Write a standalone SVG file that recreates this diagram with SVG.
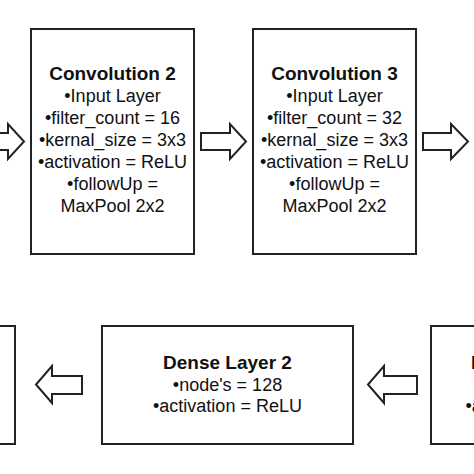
<svg xmlns="http://www.w3.org/2000/svg" width="474" height="474" viewBox="0 0 474 474">
<style>
.box{fill:#fff;stroke:#222;stroke-width:2}
.arr{fill:#fff;stroke:#222;stroke-width:2;stroke-linejoin:miter}
text{font-family:"Liberation Sans",Arial,sans-serif;fill:#111;text-anchor:middle}
.t{font-size:19px;font-weight:bold}
.l{font-size:18px}
</style>
<rect width="474" height="474" fill="#fff"/>
<g id="connectors">
<polygon class="arr" points="-4,133 8,133 8,124 24,141.5 8,159 8,150 -4,150"/>
<polygon class="arr" points="201,133 230,133 230,124 246,141.5 230,159 230,150 201,150"/>
<polygon class="arr" points="423,133 451,133 451,124 468,141.5 451,159 451,150 423,150"/>
<polygon class="arr" points="82,376 52,376 52,366 36,384.5 52,403 52,394 82,394"/>
<polygon class="arr" points="417,376 384,376 384,366 368,384.5 384,403 384,394 417,394"/>
</g>
<g id="conv2">
<rect class="box" x="31" y="29" width="163" height="225"/>
<text class="t" x="112.5" y="80">Convolution 2</text>
<text class="l" x="112.5" y="101.5">•Input Layer</text>
<text class="l" x="112.5" y="123.5">•filter_count = 16</text>
<text class="l" x="112.5" y="145.5">•kernal_size = 3x3</text>
<text class="l" x="112.5" y="167.5">•activation = ReLU</text>
<text class="l" x="112.5" y="189.5">•followUp =</text>
<text class="l" x="112.5" y="211.5">MaxPool 2x2</text>
</g>
<g id="conv3">
<rect class="box" x="253" y="29" width="163" height="225"/>
<text class="t" x="334.5" y="80">Convolution 3</text>
<text class="l" x="334.5" y="101.5">•Input Layer</text>
<text class="l" x="334.5" y="123.5">•filter_count = 32</text>
<text class="l" x="334.5" y="145.5">•kernal_size = 3x3</text>
<text class="l" x="334.5" y="167.5">•activation = ReLU</text>
<text class="l" x="334.5" y="189.5">•followUp =</text>
<text class="l" x="334.5" y="211.5">MaxPool 2x2</text>
</g>
<g id="output-box">
<rect class="box" x="-10" y="326" width="25" height="118"/>
</g>
<g id="dense2">
<rect class="box" x="102" y="326" width="251" height="118"/>
<text class="t" x="227.5" y="369">Dense Layer 2</text>
<text class="l" x="227.5" y="391">•node's = 128</text>
<text class="l" x="227.5" y="412">•activation = ReLU</text>
</g>
<g id="dense1">
<rect class="box" x="431" y="326" width="100" height="118"/>
<text class="t" x="535.5" y="369">Dense Layer 1</text>
<text class="l" x="540" y="412">•activation = ReLU</text>
</g>
</svg>
